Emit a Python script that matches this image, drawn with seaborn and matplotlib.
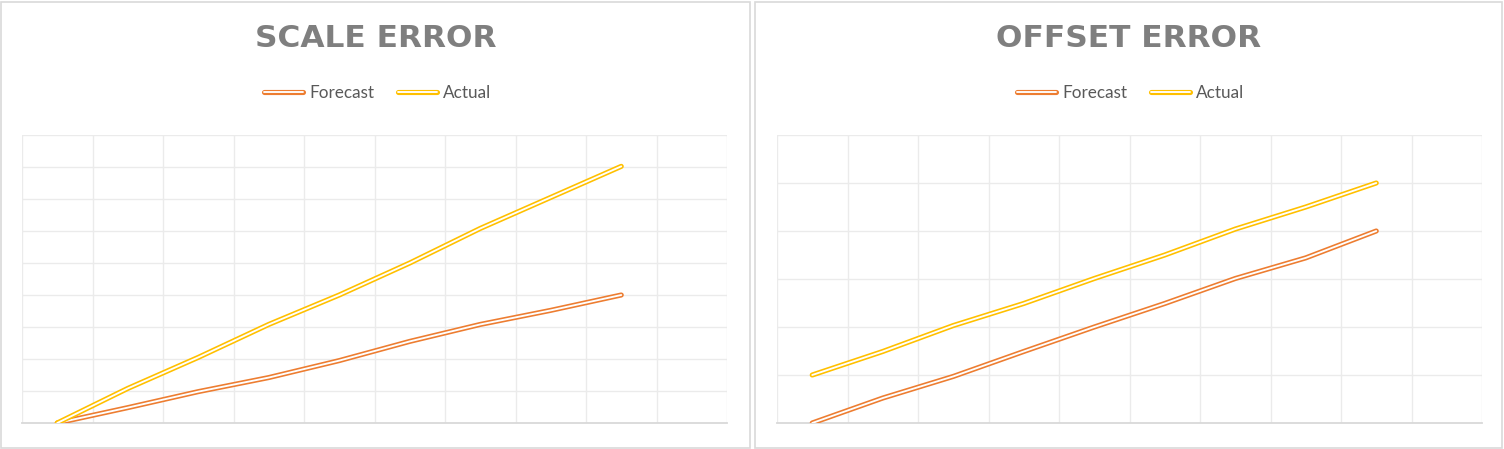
import numpy as np
import pandas as pd
import seaborn as sns
import matplotlib
matplotlib.use("Agg")
import matplotlib.pyplot as plt
import matplotlib.patheffects as pe
from matplotlib.lines import Line2D
from matplotlib.patches import Rectangle

# data (units = one gridline step)
periods = [1, 2, 3, 4, 5, 6, 7, 8, 9]
scale_forecast = [0, 0.48, 0.98, 1.42, 1.95, 2.55, 3.08, 3.52, 4.0]
scale_actual = [0, 1.08, 2.05, 3.08, 4.0, 5.0, 6.08, 7.05, 8.02]
offset_forecast = [0, 0.52, 0.97, 1.49, 2.0, 2.49, 3.01, 3.44, 4.0]
offset_actual = [1.0, 1.49, 2.03, 2.49, 3.01, 3.5, 4.04, 4.5, 5.0]
series_names = ["Forecast", "Actual"]
titles = ["SCALE ERROR", "OFFSET ERROR"]

colors = {"Forecast": "#ED7D31", "Actual": "#FFC000"}

sns.set_theme(style="white")
plt.rcParams["font.family"] = ["Lato", "DejaVu Sans"]

W, H = 1504, 449
fig = plt.figure(figsize=(W / 100, H / 100), dpi=100)

OUTER = 3.7   # width of the coloured stroke
INNER = 1.35  # white core -> gives the double line look


def double_line(ax):
    # excel style "double" compound line: thick colour stroke with a white core
    for ln in ax.lines:
        c = ln.get_color()
        ln.set_color("white")
        ln.set_linewidth(INNER)
        ln.set_path_effects([pe.Stroke(linewidth=OUTER, foreground=c), pe.Normal()])


def make_panel(left_px, panel_x0, panel_x1, title, fc, ac, ymax):
    # chart border
    fig.add_artist(Rectangle((panel_x0 / W, 1 / H), (panel_x1 - panel_x0) / W, (H - 3) / H,
                             transform=fig.transFigure, fill=False,
                             edgecolor="#d9d9d9", linewidth=1.2))
    ax = fig.add_axes([left_px / W, (H - 423) / H, 705 / W, 288 / H])
    df = pd.DataFrame({
        "period": periods * 2,
        "value": fc + ac,
        "series": ["Forecast"] * len(periods) + ["Actual"] * len(periods),
    })
    sns.lineplot(data=df, x="period", y="value", hue="series", hue_order=series_names,
                 palette=colors, legend=False, ax=ax, zorder=3)
    double_line(ax)
    ax.set_xlim(0.5, 10.5)
    ax.set_ylim(0, ymax)
    ax.set_xticks(np.arange(0.5, 11, 1))
    ax.set_yticks(np.arange(0, ymax + 1, 1))
    ax.grid(True, color="#ebebeb", linewidth=1.0)
    ax.tick_params(length=0, labelbottom=False, labelleft=False)
    ax.set_xlabel("")
    ax.set_ylabel("")
    for s in ["top", "right", "left"]:
        ax.spines[s].set_visible(False)
    ax.spines["bottom"].set_color("#d9d9d9")
    ax.spines["bottom"].set_linewidth(1.3)

    cx = (panel_x0 + panel_x1) / 2 / W
    fig.text(cx, 1 - 38.5 / H, title, ha="center", va="center", fontsize=22.5,
             fontweight="bold", color="#7f7f7f", family=["DejaVu Sans"])
    handles = [Line2D([], [], color="white", linewidth=INNER,
                      path_effects=[pe.Stroke(linewidth=OUTER, foreground=colors[n]), pe.Normal()])
               for n in series_names]
    fig.legend(handles, series_names, loc="center", bbox_to_anchor=(cx + 2 / W, 1 - 93 / H),
               ncol=2, frameon=False, fontsize=12.3, handlelength=2.3, handletextpad=0.35,
               columnspacing=1.4, labelcolor="#595959")
    return ax


make_panel(22, 1, 750, titles[0], scale_forecast, scale_actual, 9)
make_panel(777, 755, 1502, titles[1], offset_forecast, offset_actual, 6)

fig.savefig("out.png", dpi=100, facecolor="white")
